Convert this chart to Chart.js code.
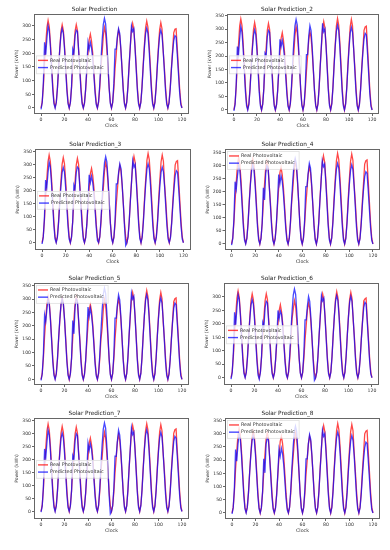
<!DOCTYPE html>
<html>
<head>
<meta charset="utf-8">
<script src="https://cdn.jsdelivr.net/npm/chart.js@4.4.1/dist/chart.umd.min.js"></script>
<style>
  html, body { margin: 0; padding: 0; background: #fff; }
  #wrap { position: relative; width: 390px; height: 550px; overflow: hidden; background: #fff; }
  canvas { position: absolute; }
</style>
</head>
<body>
<div id="wrap"></div>
<script>
// ---------------- DATA ----------------
const clock = Array.from({length: 121}, (_, i) => i);   // x categories 0..120
const xTicks = [0, 20, 40, 60, 80, 100, 120];
const yTicks300 = [0, 50, 100, 150, 200, 250, 300];
const yTicks350 = [0, 50, 100, 150, 200, 250, 300, 350];
const titles = ["Solar Prediction", "Solar Prediction_2", "Solar Prediction_3", "Solar Prediction_4",
                "Solar Prediction_5", "Solar Prediction_6", "Solar Prediction_7", "Solar Prediction_8"];
const seriesNames = ["Real Photovoltaic", "Predicted Photovoltaic"];

const real1 = [
0,22,80,165,232,294,320,298,237,160,80,22,
3,21,76,153,220,281,305,284,226,153,76,21,
0,21,76,153,220,281,305,284,210,150,76,21,
0,19,68,135,200,250,270,245,200,135,68,19,
0,21,74,148,200,262,295,274,218,148,74,21,
0,20,71,143,195,255,285,265,211,143,71,20,
0,22,78,155,223,285,310,288,229,155,78,22,
0,22,80,159,229,293,318,296,235,159,80,22,
0,22,78,156,225,287,312,290,210,150,78,22,
0,20,73,145,209,275,288,290,220,145,73,20,
0];
const pred1 = [
-5,20,95,240,195,255,300,282,222,144,66,15,
0,20,75,151,218,270,290,273,215,139,64,15,
0,20,80,215,200,265,285,280,211,137,63,14,
0,18,70,150,240,215,240,220,180,120,55,12,
0,23,85,171,246,305,328,308,243,157,72,16,
0,20,90,215,215,260,290,273,215,139,64,15,
0,21,78,156,225,300,280,290,222,144,66,15,
0,20,76,152,219,272,292,274,216,140,64,15,
0,20,74,148,214,265,285,268,211,137,63,14,
0,19,69,138,199,246,265,260,196,127,58,13,
0];

const real2 = [
0,24,85,175,243,311,338,314,250,169,85,24,
3,23,81,162,233,298,324,301,240,162,81,23,
0,22,80,161,231,295,321,299,222,160,80,22,
0,20,72,144,212,266,287,260,212,144,72,20,
0,22,77,155,210,275,309,287,229,155,77,22,
0,20,73,145,200,260,290,270,215,145,73,20,
0,23,82,164,236,302,328,305,243,164,82,23,
0,24,85,170,244,312,339,315,251,170,85,24,
0,24,84,168,242,309,336,312,225,160,84,24,
0,22,78,156,224,295,308,311,235,156,78,22,
0];
const pred2 = [
-3,20,95,235,205,265,309,290,229,148,68,15,
0,21,77,154,223,276,297,279,220,143,65,15,
0,21,80,210,200,272,295,288,218,142,65,15,
0,19,72,155,262,235,258,235,190,125,58,13,
0,24,87,175,252,312,336,316,249,161,74,17,
0,22,90,205,205,275,313,294,232,150,69,16,
0,22,83,167,241,321,290,300,238,154,71,16,
0,22,82,163,236,292,314,295,232,151,69,16,
0,21,80,160,230,286,307,289,227,147,68,15,
0,20,74,148,213,264,284,278,210,136,62,14,
0];

const real3 = [
0,24,84,175,242,309,336,312,249,168,84,24,
3,23,82,163,235,300,326,303,241,163,82,23,
0,23,81,162,233,297,323,300,225,160,81,23,
0,20,71,143,210,265,285,258,211,143,71,20,
0,22,77,154,208,275,308,286,228,154,77,22,
0,21,74,148,205,265,295,274,218,148,74,21,
0,23,83,166,238,305,331,308,245,166,83,23,
0,24,86,171,246,315,342,318,253,171,86,24,
0,24,84,168,242,309,336,312,225,160,84,24,
0,22,79,157,226,298,311,314,237,157,79,22,
0];
const pred3 = [
-5,20,95,240,210,265,308,290,228,148,68,15,
0,20,75,150,216,268,288,271,213,138,63,14,
0,20,80,220,205,268,290,284,215,139,64,14,
0,18,70,155,260,230,255,230,188,124,57,8,
0,23,86,172,248,307,330,310,244,158,73,16,
0,21,90,225,225,270,302,284,223,145,60,-10,
0,22,82,163,236,314,290,300,232,151,69,16,
0,21,79,157,227,281,302,284,223,145,66,15,
0,20,75,150,217,269,289,272,214,139,64,14,
0,19,72,144,207,257,276,270,204,132,61,14,
0];

const real4 = [
0,23,83,165,238,304,330,307,244,165,83,23,
3,23,81,163,234,299,325,302,241,163,81,23,
0,22,80,159,229,293,318,296,222,157,80,22,
0,21,73,147,215,272,293,265,217,147,73,21,
0,22,79,158,212,280,315,293,233,158,79,22,
0,21,74,148,205,265,295,274,218,148,74,21,
0,24,84,169,243,310,337,313,249,169,84,24,
0,24,87,173,249,318,346,322,256,173,87,24,
0,24,86,172,248,316,344,320,230,165,86,24,
0,22,80,161,231,305,318,321,240,161,80,22,
0];
const pred4 = [
-4,20,95,238,210,260,300,282,222,144,66,15,
0,21,79,157,227,281,302,284,223,145,66,15,
0,21,80,215,168,270,299,291,221,144,66,15,
0,19,72,160,265,230,260,240,192,127,58,13,
0,23,85,170,245,304,327,307,242,157,72,16,
0,22,90,219,219,270,308,290,228,148,68,15,
0,22,82,165,238,317,295,305,235,152,70,16,
0,22,80,160,231,286,308,290,228,148,68,15,
0,21,79,157,227,281,302,284,223,145,66,15,
0,19,72,144,207,257,276,270,204,132,61,14,
0];

const real5 = [
0,22,78,160,225,285,310,288,229,155,78,22,
3,21,76,153,220,281,305,284,226,153,76,21,
0,22,78,155,223,285,310,288,218,152,78,22,
0,20,70,140,205,260,280,255,207,140,70,20,
0,21,75,149,191,260,298,277,221,149,75,21,
0,21,75,150,210,270,300,279,222,150,75,21,
0,23,81,163,234,299,325,302,241,163,81,23,
0,23,83,166,239,305,332,309,246,166,83,23,
0,23,81,163,234,299,325,302,215,155,81,23,
0,21,76,152,219,290,301,304,225,152,76,21,
0];
const pred5 = [
-4,20,95,240,216,262,300,282,222,144,66,15,
0,21,78,156,225,279,300,282,222,144,66,15,
0,21,80,220,170,270,300,292,222,144,66,15,
0,19,72,160,270,235,265,240,195,130,59,13,
0,24,89,177,256,317,341,321,252,164,75,17,
0,22,92,229,229,278,316,297,234,152,70,16,
0,23,84,167,242,322,300,310,238,155,71,16,
0,22,82,164,237,294,316,297,234,152,70,16,
0,21,79,158,228,283,304,286,225,146,67,15,
0,20,74,148,214,265,285,279,211,137,63,14,
0];

const real6 = [
0,23,81,165,232,296,322,299,238,161,81,23,
3,22,78,156,225,287,312,290,231,156,78,22,
0,22,78,156,225,287,312,290,220,155,78,22,
0,19,68,136,200,250,271,246,200,136,68,19,
0,20,72,143,220,255,286,266,212,143,72,20,
0,19,70,139,195,250,278,259,206,139,70,19,
0,22,78,156,225,287,312,290,231,156,78,22,
0,22,80,160,230,294,320,298,237,160,80,22,
0,22,79,159,228,292,317,295,215,155,79,22,
0,21,74,148,213,285,293,296,219,148,74,21,
0];
const pred6 = [
-5,20,95,243,197,260,309,290,229,148,68,15,
0,20,75,151,218,270,290,273,215,139,64,10,
-5,20,80,205,190,260,284,278,210,136,62,14,
0,18,70,150,250,220,248,235,190,125,57,12,
0,23,86,172,248,307,330,310,244,158,73,16,
0,21,90,215,215,265,302,284,223,145,60,-9,
0,21,79,159,229,305,285,295,226,146,67,15,
0,21,79,159,229,284,305,287,226,146,67,15,
0,21,79,157,227,281,302,284,223,145,66,15,
0,20,73,146,210,260,280,274,207,134,62,14,
0];

const real7 = [
0,24,84,175,242,309,336,312,249,168,84,24,
3,23,82,164,235,301,327,304,242,164,82,23,
0,23,81,162,233,298,324,301,225,160,81,23,
0,20,71,141,208,262,282,256,209,141,71,20,
0,21,76,152,205,270,304,283,225,152,76,21,
0,21,74,148,205,265,295,274,218,148,74,21,
0,23,83,166,238,305,331,308,245,166,83,23,
0,24,84,169,243,310,337,313,249,169,84,24,
0,23,83,167,240,306,333,310,222,160,83,23,
0,22,79,159,228,300,314,317,235,159,79,22,
0];
const pred7 = [
-3,20,95,240,205,265,312,293,231,150,69,16,
0,21,78,157,226,280,301,283,223,144,66,15,
0,21,80,214,200,272,299,291,221,144,66,15,
0,19,72,155,262,235,260,240,192,127,58,13,
0,24,88,177,255,316,340,320,252,163,60,-9,
0,22,90,212,212,270,312,293,231,150,69,16,
0,22,83,167,241,321,295,305,238,154,71,16,
0,22,82,163,236,292,314,295,232,151,69,16,
0,21,79,158,228,283,304,286,225,146,67,15,
0,20,75,150,216,268,288,281,213,138,63,14,
0];

const real8 = [
0,22,80,165,232,294,320,298,237,160,80,22,
3,22,78,156,225,287,312,290,231,156,78,22,
0,21,76,153,220,281,305,284,215,150,76,21,
0,20,73,146,214,270,291,264,215,146,73,20,
0,21,76,152,210,270,303,282,224,152,76,21,
0,20,73,146,200,262,291,271,215,146,73,20,
0,23,83,166,238,305,331,308,245,166,83,23,
0,24,85,170,244,312,339,315,251,170,85,24,
0,23,84,168,241,308,335,312,230,160,84,23,
0,22,78,157,225,300,310,313,232,157,78,22,
0];
const pred8 = [
-4,20,95,240,196,258,300,282,222,144,66,15,
0,21,76,152,220,272,293,275,217,141,64,15,
0,20,80,205,152,262,284,277,210,136,62,14,
0,18,68,150,240,215,245,225,183,120,55,12,
0,23,86,171,247,306,329,309,243,158,72,16,
0,21,88,205,205,262,297,279,220,143,65,15,
0,22,81,163,235,313,290,300,232,150,69,16,
0,21,80,159,230,285,306,288,226,147,67,15,
0,21,76,152,220,272,293,275,217,141,64,15,
0,19,70,139,201,249,268,263,198,129,59,13,
0];

const realSeries = [real1, real2, real3, real4, real5, real6, real7, real8];
const predSeries = [pred1, pred2, pred3, pred4, pred5, pred6, pred7, pred8];
const yLimits = [[-22,344],[-15,356],[-28,359],[-23,363],[-21,360],[-27,352],[-29,359],[-23,360]];
const yTickSets = [yTicks300, yTicks350, yTicks350, yTicks350, yTicks350, yTicks300, yTicks350, yTicks350];

// ---------------- LAYOUT (styles) ----------------
// plot boxes: [left, top, right, bottom] in page pixels
const boxes = [
  [34, 14, 189, 114], [227, 14, 379, 114],
  [35, 149, 190.5, 250], [224.5, 149, 380, 250],
  [34, 283, 189, 385], [224, 283, 379, 385],
  [34, 418, 189, 519], [225, 418, 380, 519]
];
const legendLoc = ['center','center','center','upper','upper','center','center','upper'];
const FONT = '"DejaVu Sans", sans-serif';
const TXT = '#333';

Chart.defaults.font.family = FONT;
Chart.defaults.color = TXT;

const frameAndLegend = {
  id: 'frameAndLegend',
  afterDatasetsDraw(chart, args, opts) {
    const {ctx, chartArea: a} = chart;
    ctx.save();
    const fs = 4.8;
    ctx.font = fs + 'px ' + FONT;
    const ds = chart.data.datasets;
    const tw = Math.max(...ds.map(d => ctx.measureText(d.label).width));
    const rowH = 7.2;
    const x0 = Math.round(a.left) + 2;
    const y1 = opts.loc === 'upper' ? a.top + 7 : (a.top + a.bottom) / 2 - rowH / 2;
    const w = tw + 18, h = rowH * 2 + 3.5;
    ctx.fillStyle = 'rgba(255,255,255,0.8)';
    ctx.strokeStyle = 'rgba(215,215,215,0.8)';
    ctx.lineWidth = 0.8;
    ctx.fillRect(x0, y1 - 5, w, h);
    ctx.strokeRect(x0 + 0.5, y1 - 5 + 0.5, w, h);
    ds.forEach((d, k) => {
      const y = y1 + k * rowH;
      ctx.strokeStyle = d.borderColor;
      ctx.lineWidth = 1.4;
      ctx.beginPath(); ctx.moveTo(x0 + 2, y); ctx.lineTo(x0 + 12, y); ctx.stroke();
      ctx.fillStyle = TXT;
      ctx.textBaseline = 'middle';
      ctx.textAlign = 'left';
      ctx.fillText(d.label, x0 + 14, y);
    });
    ctx.restore();
  },
  afterDraw(chart) {
    const {ctx, chartArea: a} = chart;
    ctx.save();
    ctx.strokeStyle = '#666';
    ctx.lineWidth = 1;
    const l = Math.round(a.left) + 0.5, t = Math.round(a.top) + 0.5;
    const r = Math.round(a.right) - 0.5, b = Math.round(a.bottom) - 0.5;
    ctx.strokeRect(l, t, r - l, b - t);
    ctx.restore();
  }
};

const wrap = document.getElementById('wrap');

for (let i = 0; i < 8; i++) {
  const [bl, bt, br, bb] = boxes[i];
  const cx = (i % 2 === 0) ? 0 : 195;
  const cw = 195;
  const cy = bt - 14;
  const ch = bb + 16 - cy;
  const cv = document.createElement('canvas');
  cv.width = cw; cv.height = ch;
  cv.style.left = cx + 'px'; cv.style.top = cy + 'px';
  cv.style.width = cw + 'px'; cv.style.height = ch + 'px';
  wrap.appendChild(cv);

  const yTitleOffset = bl - 17 - cx;
  const yt = yTickSets[i];

  new Chart(cv, {
    type: 'line',
    data: {
      datasets: [
        { label: seriesNames[0], data: clock.map((x, k) => ({x, y: realSeries[i][k]})), order: 2,
          borderColor: 'rgba(255,0,0,0.72)', borderWidth: 1.3, pointRadius: 0, tension: 0, fill: false },
        { label: seriesNames[1], data: clock.map((x, k) => ({x, y: predSeries[i][k]})), order: 1,
          borderColor: 'rgba(0,0,255,0.72)', borderWidth: 1.3, pointRadius: 0, tension: 0, fill: false }
      ]
    },
    options: {
      responsive: false,
      animation: false,
      devicePixelRatio: 1,
      layout: { padding: { left: 0, top: 0, right: cx + cw - br, bottom: 0 } },
      plugins: {
        legend: { display: false },
        tooltip: { enabled: false },
        title: { display: true, text: titles[i], color: '#222',
                 font: { size: 5.8, weight: 'normal', family: FONT },
                 padding: { top: 6.0, bottom: 1.0 } },
        frameAndLegend: { loc: legendLoc[i] }
      },
      scales: {
        x: {
          type: 'linear', min: -6, max: 126,
          afterBuildTicks: s => { s.ticks = xTicks.map(v => ({value: v})); },
          afterFit: s => { s.height = 16; },
          grid: { display: true, drawOnChartArea: false, drawTicks: true, tickLength: 2, color: '#666' },
          border: { display: false },
          ticks: { font: { size: 4.6, family: FONT }, color: TXT, padding: 1, maxRotation: 0, autoSkip: false },
          title: { display: true, text: 'Clock', color: TXT, font: { size: 4.8, family: FONT },
                   padding: { top: 0, bottom: 1.2 } }
        },
        y: {
          type: 'linear', min: yLimits[i][0], max: yLimits[i][1],
          afterBuildTicks: s => { s.ticks = yt.map(v => ({value: v})); },
          afterFit: s => { s.width = bl - cx; },
          grid: { display: true, drawOnChartArea: false, drawTicks: true, tickLength: 2, color: '#666' },
          border: { display: false },
          ticks: { font: { size: 4.6, family: FONT }, color: TXT, padding: 1, autoSkip: false },
          title: { display: true, text: 'Power (kWh)', color: TXT, font: { size: 4.5, family: FONT },
                   padding: { top: yTitleOffset - 2.7, bottom: 0 } }
        }
      }
    },
    plugins: [frameAndLegend]
  });
}
</script>
</body>
</html>
